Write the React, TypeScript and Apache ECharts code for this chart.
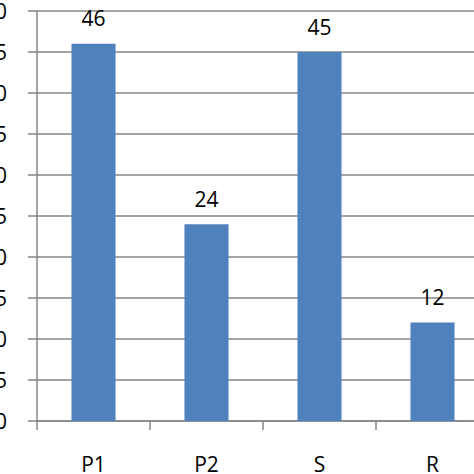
import { useEffect, useRef } from 'react'
import * as echarts from 'echarts'

const CATEGORIES = ['P1', 'P2', 'S', 'R']
const VALUES = [46, 24, 45, 12]

const BAR = '#4f81bd'
const LINE = '#868686'
const FONT = "'Open Sans', 'Liberation Sans', sans-serif"

// the chart is cropped at both sides, so the canvas reaches past the window
const SHIFT = 40

export default function App() {
  const ref = useRef<HTMLDivElement>(null)

  useEffect(() => {
    const el = ref.current
    if (!el) return
    const chart = echarts.init(el, undefined, { renderer: 'svg' })
    chart.setOption({
      animation: false,
      textStyle: { fontFamily: FONT },
      grid: { left: 37 + SHIFT, right: 31, top: 11, bottom: 52, containLabel: false },
      xAxis: {
        type: 'category',
        data: CATEGORIES,
        axisLine: { lineStyle: { color: LINE, width: 1.5 } },
        axisTick: { show: true, length: 9, lineStyle: { color: LINE, width: 1.5 } },
        axisLabel: { color: '#000', fontSize: 21, margin: 32, fontFamily: FONT },
      },
      yAxis: {
        type: 'value',
        min: 0,
        max: 50,
        interval: 5,
        axisLine: { show: true, lineStyle: { color: LINE, width: 1.5 } },
        axisTick: { show: true, length: 9, lineStyle: { color: LINE, width: 1.5 } },
        splitLine: { lineStyle: { color: LINE, width: 1.5 } },
        axisLabel: { color: '#000', fontSize: 21, margin: 30, fontFamily: FONT },
      },
      series: [
        {
          type: 'bar',
          data: VALUES,
          barWidth: '39%',
          itemStyle: { color: BAR },
          label: {
            show: true,
            position: 'top',
            distance: 15,
            color: '#000',
            fontSize: 21,
            fontFamily: FONT,
          },
        },
      ],
    })
    return () => chart.dispose()
  }, [])

  return (
    <div
      ref={ref}
      style={{ position: 'fixed', left: -SHIFT, top: 0, width: 474 + SHIFT + 46, height: 474, background: '#fff' }}
    />
  )
}
